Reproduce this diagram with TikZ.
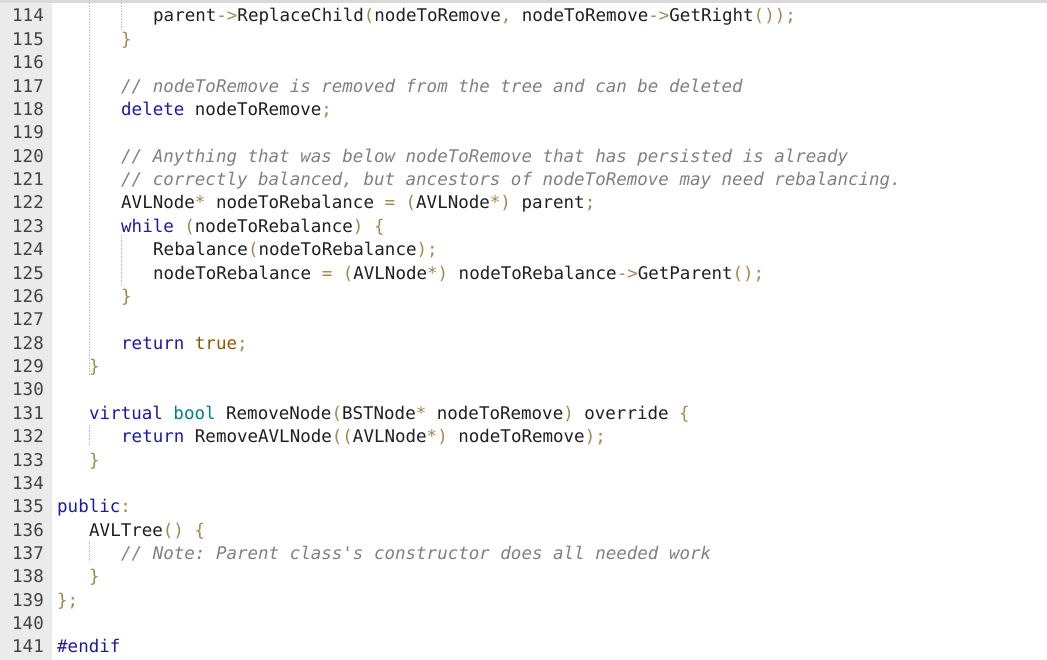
\documentclass[tikz,border=0pt]{standalone}
\usepackage{fontspec}
\setmonofont{DejaVu Sans Mono}
\definecolor{kwc}{HTML}{1A1AA6}
\definecolor{tyc}{HTML}{00808C}
\definecolor{litc}{HTML}{8B5A00}
\definecolor{puc}{HTML}{A08A50}
\definecolor{cmc}{HTML}{808080}
\definecolor{idc}{HTML}{202020}
\definecolor{gut}{HTML}{EBEBEB}
\newcommand{\kw}[1]{\textcolor{kwc}{#1}}
\newcommand{\ty}[1]{\textcolor{tyc}{#1}}
\newcommand{\lit}[1]{\textcolor{litc}{#1}}
\newcommand{\pu}[1]{\textcolor{puc}{#1}}
\newcommand{\cm}[1]{\textcolor{cmc}{\itshape #1}}
\tikzset{codeline/.style={anchor=base west,inner sep=0pt,text=idc,font=\ttfamily\fontsize{17.5}{20}\selectfont},
 lnum/.style={anchor=base east,inner sep=0pt,text=idc!85,font=\ttfamily\fontsize{17.5}{20}\selectfont},
 guide/.style={densely dotted,draw=black!25,line width=0.6pt}}
\begin{document}
\begin{tikzpicture}[x=1pt,y=-1pt]
\fill[white] (0,0) rectangle (1047,660);
\useasboundingbox (0,0) rectangle (1047,660);
\fill[gut] (0,0) rectangle (52,660);
\fill[black!15] (0,0) rectangle (1047,3);
\def\dy{23.37}
\foreach \n [count=\i from 0] in {114,...,141}{
  \node[lnum] (ln\n) at (44,{22+\i*\dy}) {\n};
}
\draw[guide] (89,0) -- (89,375);
\draw[guide] (121,0) -- (121,30);
\draw[guide] (121,235) -- (121,285);
\draw[guide] (89,425) -- (89,445);
\draw[guide] (89,540) -- (89,562);
\newcommand{\cl}[3]{\node[codeline] (c#1) at ({57+#2*32},{22+(#1-114)*\dy}) {#3};}
\cl{114}{3}{parent\pu{->}ReplaceChild\pu{(}nodeToRemove\pu{,} nodeToRemove\pu{->}GetRight\pu{());}}
\cl{115}{2}{\pu{\}}}
\cl{117}{2}{\cm{// nodeToRemove is removed from the tree and can be deleted}}
\cl{118}{2}{\kw{delete} nodeToRemove\pu{;}}
\cl{120}{2}{\cm{// Anything that was below nodeToRemove that has persisted is already}}
\cl{121}{2}{\cm{// correctly balanced, but ancestors of nodeToRemove may need rebalancing.}}
\cl{122}{2}{AVLNode\pu{*} nodeToRebalance \pu{=} \pu{(}AVLNode\pu{*)} parent\pu{;}}
\cl{123}{2}{\kw{while} \pu{(}nodeToRebalance\pu{)} \pu{\{}}
\cl{124}{3}{Rebalance\pu{(}nodeToRebalance\pu{);}}
\cl{125}{3}{nodeToRebalance \pu{=} \pu{(}AVLNode\pu{*)} nodeToRebalance\pu{->}GetParent\pu{();}}
\cl{126}{2}{\pu{\}}}
\cl{128}{2}{\kw{return} \lit{true}\pu{;}}
\cl{129}{1}{\pu{\}}}
\cl{131}{1}{\kw{virtual} \ty{bool} RemoveNode\pu{(}BSTNode\pu{*} nodeToRemove\pu{)} override \pu{\{}}
\cl{132}{2}{\kw{return} RemoveAVLNode\pu{((}AVLNode\pu{*)} nodeToRemove\pu{);}}
\cl{133}{1}{\pu{\}}}
\cl{135}{0}{\kw{public}\pu{:}}
\cl{136}{1}{AVLTree\pu{()} \pu{\{}}
\cl{137}{2}{\cm{// Note: Parent class's constructor does all needed work}}
\cl{138}{1}{\pu{\}}}
\cl{139}{0}{\pu{\};}}
\cl{141}{0}{\kw{\#endif}}
\end{tikzpicture}
\end{document}
